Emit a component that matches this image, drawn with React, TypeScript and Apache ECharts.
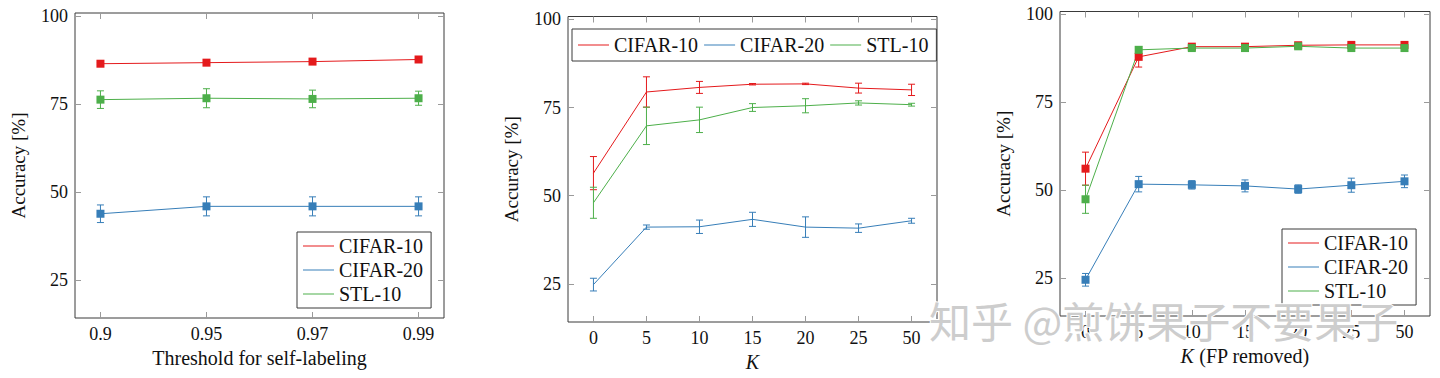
import React, { useEffect, useRef } from 'react';
import * as echarts from 'echarts';

const FONT = 'Liberation Serif';
const RED = '#E41A1C';
const BLUE = '#377EB8';
const GREEN = '#4DAF4A';
const NAMES = ['CIFAR-10', 'CIFAR-20', 'STL-10'];
const COLORS = [RED, BLUE, GREEN];

const thresholdLabels = ['0.9', '0.95', '0.97', '0.99'];
const kLabels = ['0', '5', '10', '15', '20', '25', '50'];
const yTicks = [25, 50, 75, 100];

// Panel 1: threshold for self-labeling
const p1Cifar10 = [86.4, 86.7, 87.0, 87.6];
const p1Cifar10Err = [0.3, 0.3, 0.3, 0.3];
const p1Cifar20 = [43.8, 45.9, 45.9, 45.9];
const p1Cifar20Err = [2.5, 2.7, 2.7, 2.7];
const p1Stl10 = [76.2, 76.6, 76.4, 76.6];
const p1Stl10Err = [2.5, 2.7, 2.5, 2.0];

// Panel 2: K
const p2Cifar10 = [56.4, 79.4, 80.7, 81.6, 81.7, 80.5, 80.0];
const p2Cifar10Err = [4.7, 4.3, 1.7, 0.2, 0.2, 1.4, 1.6];
const p2Cifar20 = [24.8, 41.1, 41.2, 43.3, 41.1, 40.8, 42.9];
const p2Cifar20Err = [1.8, 0.6, 1.9, 2.0, 2.9, 1.2, 0.7];
const p2Stl10 = [48.0, 69.8, 71.5, 75.0, 75.5, 76.3, 75.8];
const p2Stl10Err = [4.4, 5.3, 3.6, 1.1, 2.0, 0.6, 0.4];

// Panel 3: K (FP removed)
const p3Cifar10 = [56.1, 87.9, 90.8, 90.8, 91.2, 91.3, 91.3];
const p3Cifar10Err = [4.7, 2.9, 0.3, 0.3, 0.3, 0.3, 0.3];
const p3Cifar20 = [24.5, 51.7, 51.5, 51.2, 50.3, 51.4, 52.5];
const p3Cifar20Err = [1.8, 2.2, 1.2, 1.7, 1.2, 2.0, 1.8];
const p3Stl10 = [47.4, 89.9, 90.4, 90.4, 90.9, 90.4, 90.4];
const p3Stl10Err = [4.0, 0.3, 0.3, 0.3, 0.3, 0.3, 0.3];

const Y_MIN = 14.2;
const Y_MAX = 100.8;

const TICK_COLOR = '#9a9a9a';
const FRAME_COLOR = '#3a3a3a';
const TEXT_COLOR = '#111';

const panels = [
  {
    grid: { left: 75, top: 13, width: 369, height: 305 },
    labels: thresholdLabels,
    pad: 0.24,
    xName: 'Threshold for self-labeling',
    means: [p1Cifar10, p1Cifar20, p1Stl10],
    errs: [p1Cifar10Err, p1Cifar20Err, p1Stl10Err],
    markers: true,
    legend: { orient: 'vertical', left: 297, top: 232 },
  },
  {
    grid: { left: 568, top: 16.5, width: 369, height: 305.5 },
    labels: kLabels,
    pad: 0.48,
    xName: '{i|K}',
    means: [p2Cifar10, p2Cifar20, p2Stl10],
    errs: [p2Cifar10Err, p2Cifar20Err, p2Stl10Err],
    markers: false,
    legend: { orient: 'horizontal', left: 572, top: 29 },
  },
  {
    grid: { left: 1060, top: 11.5, width: 370, height: 304.5 },
    labels: kLabels,
    pad: 0.48,
    xName: '{i|K} (FP removed)',
    means: [p3Cifar10, p3Cifar20, p3Stl10],
    errs: [p3Cifar10Err, p3Cifar20Err, p3Stl10Err],
    markers: true,
    legend: { orient: 'vertical', left: 1282, top: 229 },
  },
];

function buildOption() {
  const grid: any[] = [];
  const xAxis: any[] = [];
  const yAxis: any[] = [];
  const series: any[] = [];
  const legend: any[] = [];

  panels.forEach((p, pi) => {
    grid.push({
      ...p.grid,
      show: true,
      borderColor: FRAME_COLOR,
      borderWidth: 1,
      backgroundColor: 'transparent',
      containLabel: false,
    });
    const idxs = p.labels.map((_, i) => i);
    const xMin = -p.pad;
    const xMax = p.labels.length - 1 + p.pad;
    const tick = { show: true, inside: true, length: 6, lineStyle: { color: TICK_COLOR, width: 1 } };
    const baseX = {
      type: 'value',
      gridIndex: pi,
      min: xMin,
      max: xMax,
      splitLine: { show: false },
      axisLine: { show: false, onZero: false },
    };
    xAxis.push({
      ...baseX,
      position: 'bottom',
      name: p.xName,
      nameLocation: 'middle',
      nameGap: 30,
      nameTextStyle: {
        fontFamily: FONT,
        fontSize: 20,
        color: TEXT_COLOR,
        rich: { i: { fontFamily: FONT, fontSize: 20, fontStyle: 'italic', color: TEXT_COLOR } },
      },
      axisTick: { ...tick, customValues: idxs },
      axisLabel: {
        show: true,
        customValues: idxs,
        margin: 7,
        fontFamily: FONT,
        fontSize: 18,
        color: TEXT_COLOR,
        formatter: (v: number) => p.labels[Math.round(v)] ?? '',
      },
    });
    xAxis.push({
      ...baseX,
      position: 'top',
      axisTick: { ...tick, customValues: idxs },
      axisLabel: { show: false },
    });
    const baseY = {
      type: 'value',
      gridIndex: pi,
      min: Y_MIN,
      max: Y_MAX,
      splitLine: { show: false },
      axisLine: { show: false, onZero: false },
    };
    yAxis.push({
      ...baseY,
      position: 'left',
      name: 'Accuracy [%]',
      nameLocation: 'middle',
      nameGap: 47,
      nameTextStyle: { fontFamily: FONT, fontSize: 19, color: TEXT_COLOR },
      axisTick: { ...tick, customValues: yTicks },
      axisLabel: {
        show: true,
        customValues: yTicks,
        margin: 7,
        fontFamily: FONT,
        fontSize: 18,
        color: TEXT_COLOR,
      },
    });
    yAxis.push({
      ...baseY,
      position: 'right',
      axisTick: { ...tick, customValues: yTicks },
      axisLabel: { show: false },
    });

    const xi = pi * 2;
    const yi = pi * 2;
    NAMES.forEach((name, si) => {
      const color = COLORS[si];
      const means = p.means[si];
      const errs = p.errs[si];
      series.push({
        type: 'custom',
        name: name + ' error',
        xAxisIndex: xi,
        yAxisIndex: yi,
        z: 2,
        silent: true,
        itemStyle: { color },
        data: means.map((m, i) => [i, m, m - errs[i], m + errs[i]]),
        encode: { x: 0, y: [2, 3] },
        renderItem: (params: any, api: any) => {
          const x = api.value(0);
          const lo = api.coord([x, api.value(2)]);
          const hi = api.coord([x, api.value(3)]);
          const w = 3.5;
          const style = { stroke: color, lineWidth: 1, fill: 'none' };
          return {
            type: 'group',
            children: [
              { type: 'line', shape: { x1: lo[0], y1: lo[1], x2: hi[0], y2: hi[1] }, style },
              { type: 'line', shape: { x1: lo[0] - w, y1: lo[1], x2: lo[0] + w, y2: lo[1] }, style },
              { type: 'line', shape: { x1: hi[0] - w, y1: hi[1], x2: hi[0] + w, y2: hi[1] }, style },
            ],
          };
        },
      });
      series.push({
        type: 'line',
        name,
        xAxisIndex: xi,
        yAxisIndex: yi,
        z: 3,
        data: means.map((m, i) => [i, m]),
        symbol: p.markers ? 'rect' : 'none',
        symbolSize: 8,
        showSymbol: p.markers,
        lineStyle: { color, width: 1 },
        itemStyle: { color },
        emphasis: { disabled: true },
      });
    });

    legend.push({
      ...p.legend,
      data: NAMES.map((n) => ({ name: n, icon: 'rect' })),
      itemWidth: 31,
      itemHeight: 1,
      itemGap: p.legend.orient === 'vertical' ? 4 : 6,
      padding: p.legend.orient === 'vertical' ? [4, 8, 4, 6] : [6, 8, 6, 6],
      borderColor: FRAME_COLOR,
      borderWidth: 1,
      backgroundColor: '#fff',
      selectedMode: false,
      textStyle: { fontFamily: FONT, fontSize: 20, color: TEXT_COLOR, padding: [0, 0, 0, 0], lineHeight: 20 },
      z: 10,
    });
  });

  return {
    animation: false,
    backgroundColor: '#fff',
    textStyle: { fontFamily: FONT, color: TEXT_COLOR },
    grid,
    xAxis,
    yAxis,
    series,
    legend,
    graphic: [
      {
        type: 'text',
        left: 928,
        top: 297,
        z: 100,
        style: {
          text: '知乎 @煎饼果子不要果子',
          fontFamily: 'Noto Sans CJK SC',
          fontSize: 42,
          fill: '#cdcdcd',
          stroke: '#ffffff',
          lineWidth: 2,
        },
      },
    ],
  };
}

export default function App() {
  const ref = useRef<HTMLDivElement>(null);
  useEffect(() => {
    document.body.style.margin = '0';
    if (!ref.current) return;
    const chart = echarts.init(ref.current, null, { renderer: 'svg' });
    chart.setOption(buildOption() as any);
    return () => chart.dispose();
  }, []);
  return <div ref={ref} style={{ width: 1440, height: 378 }} />;
}
